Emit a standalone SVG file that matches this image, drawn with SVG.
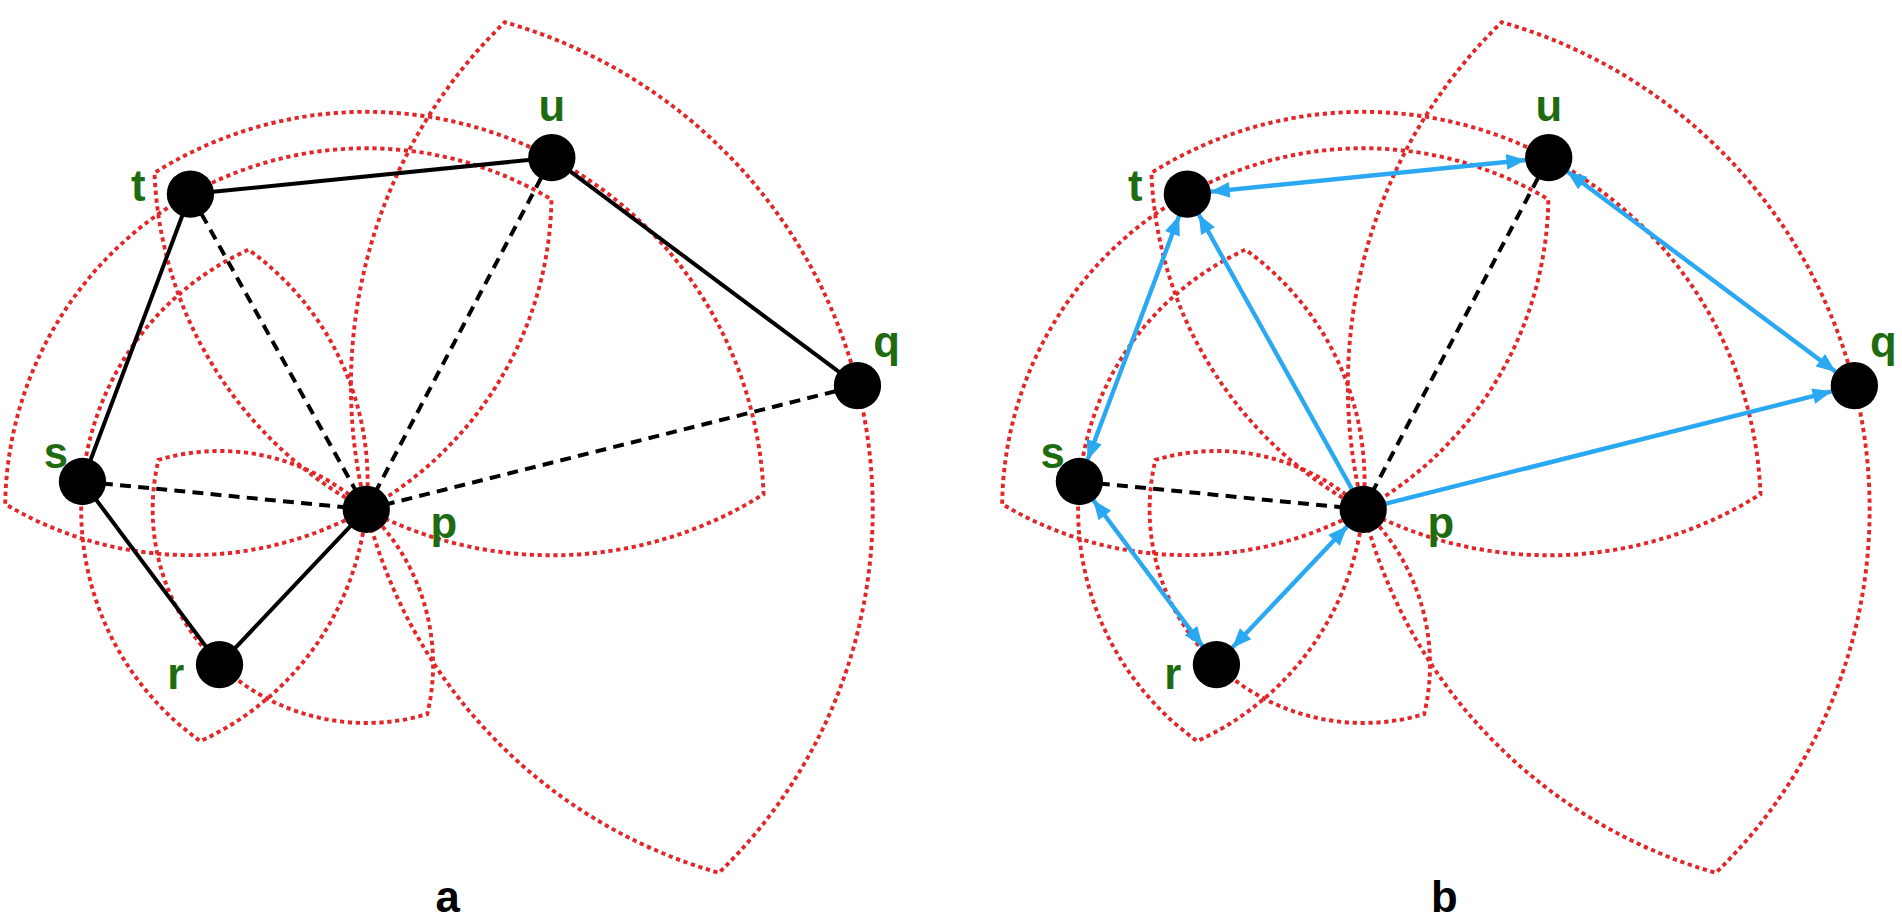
<svg xmlns="http://www.w3.org/2000/svg" width="1902" height="924" viewBox="0 0 1902 924">
<style>
.lune{fill:none;stroke:#e0282a;stroke-width:3.2;stroke-dasharray:3.5 3}
.e{stroke:#000;stroke-width:3.3}
.d{stroke:#000;stroke-width:3.3;stroke-dasharray:9 6}
.b{stroke:#2aa8f2;stroke-width:3.6}
.n{fill:#000}
.lb{font-family:"Liberation Sans",Arial,sans-serif;font-weight:bold;font-size:36px;fill:#1f6b12}
.cap{font-family:"Liberation Sans",Arial,sans-serif;font-weight:bold;font-size:36px;fill:#000}
</style>
<defs>
<marker id="ah" markerUnits="userSpaceOnUse" markerWidth="60" markerHeight="20" refX="35" refY="6.5" orient="auto-start-reverse" overflow="visible">
<path d="M0,0 L16,6.5 L0,13 z" fill="#2aa8f2"/>
</marker>
<g id="lunes">
<path class="lune" d="M302,420 A417.6,417.6 0 0 1 416.2,18.3 A417.6,417.6 0 0 1 592.8,719.7 A417.6,417.6 0 0 1 302,420 Z"/>
<path class="lune" d="M302,420 A327.9,327.9 0 0 1 127.4,142.5 A327.9,327.9 0 0 1 629.6,407.5 A327.9,327.9 0 0 1 302,420 Z"/>
<path class="lune" d="M302,420 A297.7,297.7 0 0 1 4.3,415.6 A297.7,297.7 0 0 1 454.7,164.4 A297.7,297.7 0 0 1 302,420 Z"/>
<path class="lune" d="M302,420 A235.1,235.1 0 0 1 165.1,611.1 A235.1,235.1 0 0 1 204.9,205.9 A235.1,235.1 0 0 1 302,420 Z"/>
<path class="lune" d="M302,420 A176.1,176.1 0 0 1 352.3,588.8 A176.1,176.1 0 0 1 130.7,379.2 A176.1,176.1 0 0 1 302,420 Z"/>
</g>
</defs>
<g transform="scale(1.2128)">
<use href="#lunes"/>
<use href="#lunes" transform="translate(822,0)"/>
<g id="connectors">
<line class="e" x1="157" y1="160" x2="455" y2="130"/>
<line class="e" x1="455" y1="130" x2="707" y2="318"/>
<line class="e" x1="157" y1="160" x2="68" y2="397"/>
<line class="e" x1="68" y1="397" x2="181" y2="548"/>
<line class="e" x1="181" y1="548" x2="302" y2="420"/>
<line class="d" x1="302" y1="420" x2="157" y2="160"/>
<line class="d" x1="302" y1="420" x2="455" y2="130"/>
<line class="d" x1="302" y1="420" x2="707" y2="318"/>
<line class="d" x1="302" y1="420" x2="68" y2="397"/>
<g transform="translate(822,0)">
<line class="d" x1="302" y1="420" x2="455" y2="130"/>
<line class="d" x1="302" y1="420" x2="68" y2="397"/>
<line class="b" x1="157" y1="160" x2="455" y2="130" marker-start="url(#ah)" marker-end="url(#ah)"/>
<line class="b" x1="455" y1="130" x2="707" y2="318" marker-start="url(#ah)" marker-end="url(#ah)"/>
<line class="b" x1="157" y1="160" x2="68" y2="397" marker-start="url(#ah)" marker-end="url(#ah)"/>
<line class="b" x1="68" y1="397" x2="181" y2="548" marker-start="url(#ah)" marker-end="url(#ah)"/>
<line class="b" x1="181" y1="548" x2="302" y2="420" marker-start="url(#ah)" marker-end="url(#ah)"/>
<line class="b" x1="302" y1="420" x2="157" y2="160" marker-end="url(#ah)"/>
<line class="b" x1="302" y1="420" x2="707" y2="318" marker-end="url(#ah)"/>
</g>
</g>
<g id="nodes-a">
<g id="p-a"><circle class="n" cx="302" cy="420" r="19.5"/><text class="lb" x="355" y="444">p</text></g>
<g id="q-a"><circle class="n" cx="707" cy="318" r="19.5"/><text class="lb" x="720" y="294">q</text></g>
<g id="u-a"><circle class="n" cx="455" cy="130" r="19.5"/><text class="lb" x="444" y="100">u</text></g>
<g id="t-a"><circle class="n" cx="157" cy="160" r="19.5"/><text class="lb" x="108" y="166">t</text></g>
<g id="s-a"><circle class="n" cx="68" cy="397" r="19.5"/><text class="lb" x="36" y="386">s</text></g>
<g id="r-a"><circle class="n" cx="181" cy="548" r="19.5"/><text class="lb" x="138" y="568">r</text></g>
</g>
<g id="nodes-b" transform="translate(822,0)">
<g id="p-b"><circle class="n" cx="302" cy="420" r="19.5"/><text class="lb" x="355" y="444">p</text></g>
<g id="q-b"><circle class="n" cx="707" cy="318" r="19.5"/><text class="lb" x="720" y="294">q</text></g>
<g id="u-b"><circle class="n" cx="455" cy="130" r="19.5"/><text class="lb" x="444" y="100">u</text></g>
<g id="t-b"><circle class="n" cx="157" cy="160" r="19.5"/><text class="lb" x="108" y="166">t</text></g>
<g id="s-b"><circle class="n" cx="68" cy="397" r="19.5"/><text class="lb" x="36" y="386">s</text></g>
<g id="r-b"><circle class="n" cx="181" cy="548" r="19.5"/><text class="lb" x="138" y="568">r</text></g>
</g>
<text class="cap" x="359" y="752">a</text>
<text class="cap" x="1180" y="752">b</text>
</g>
</svg>
